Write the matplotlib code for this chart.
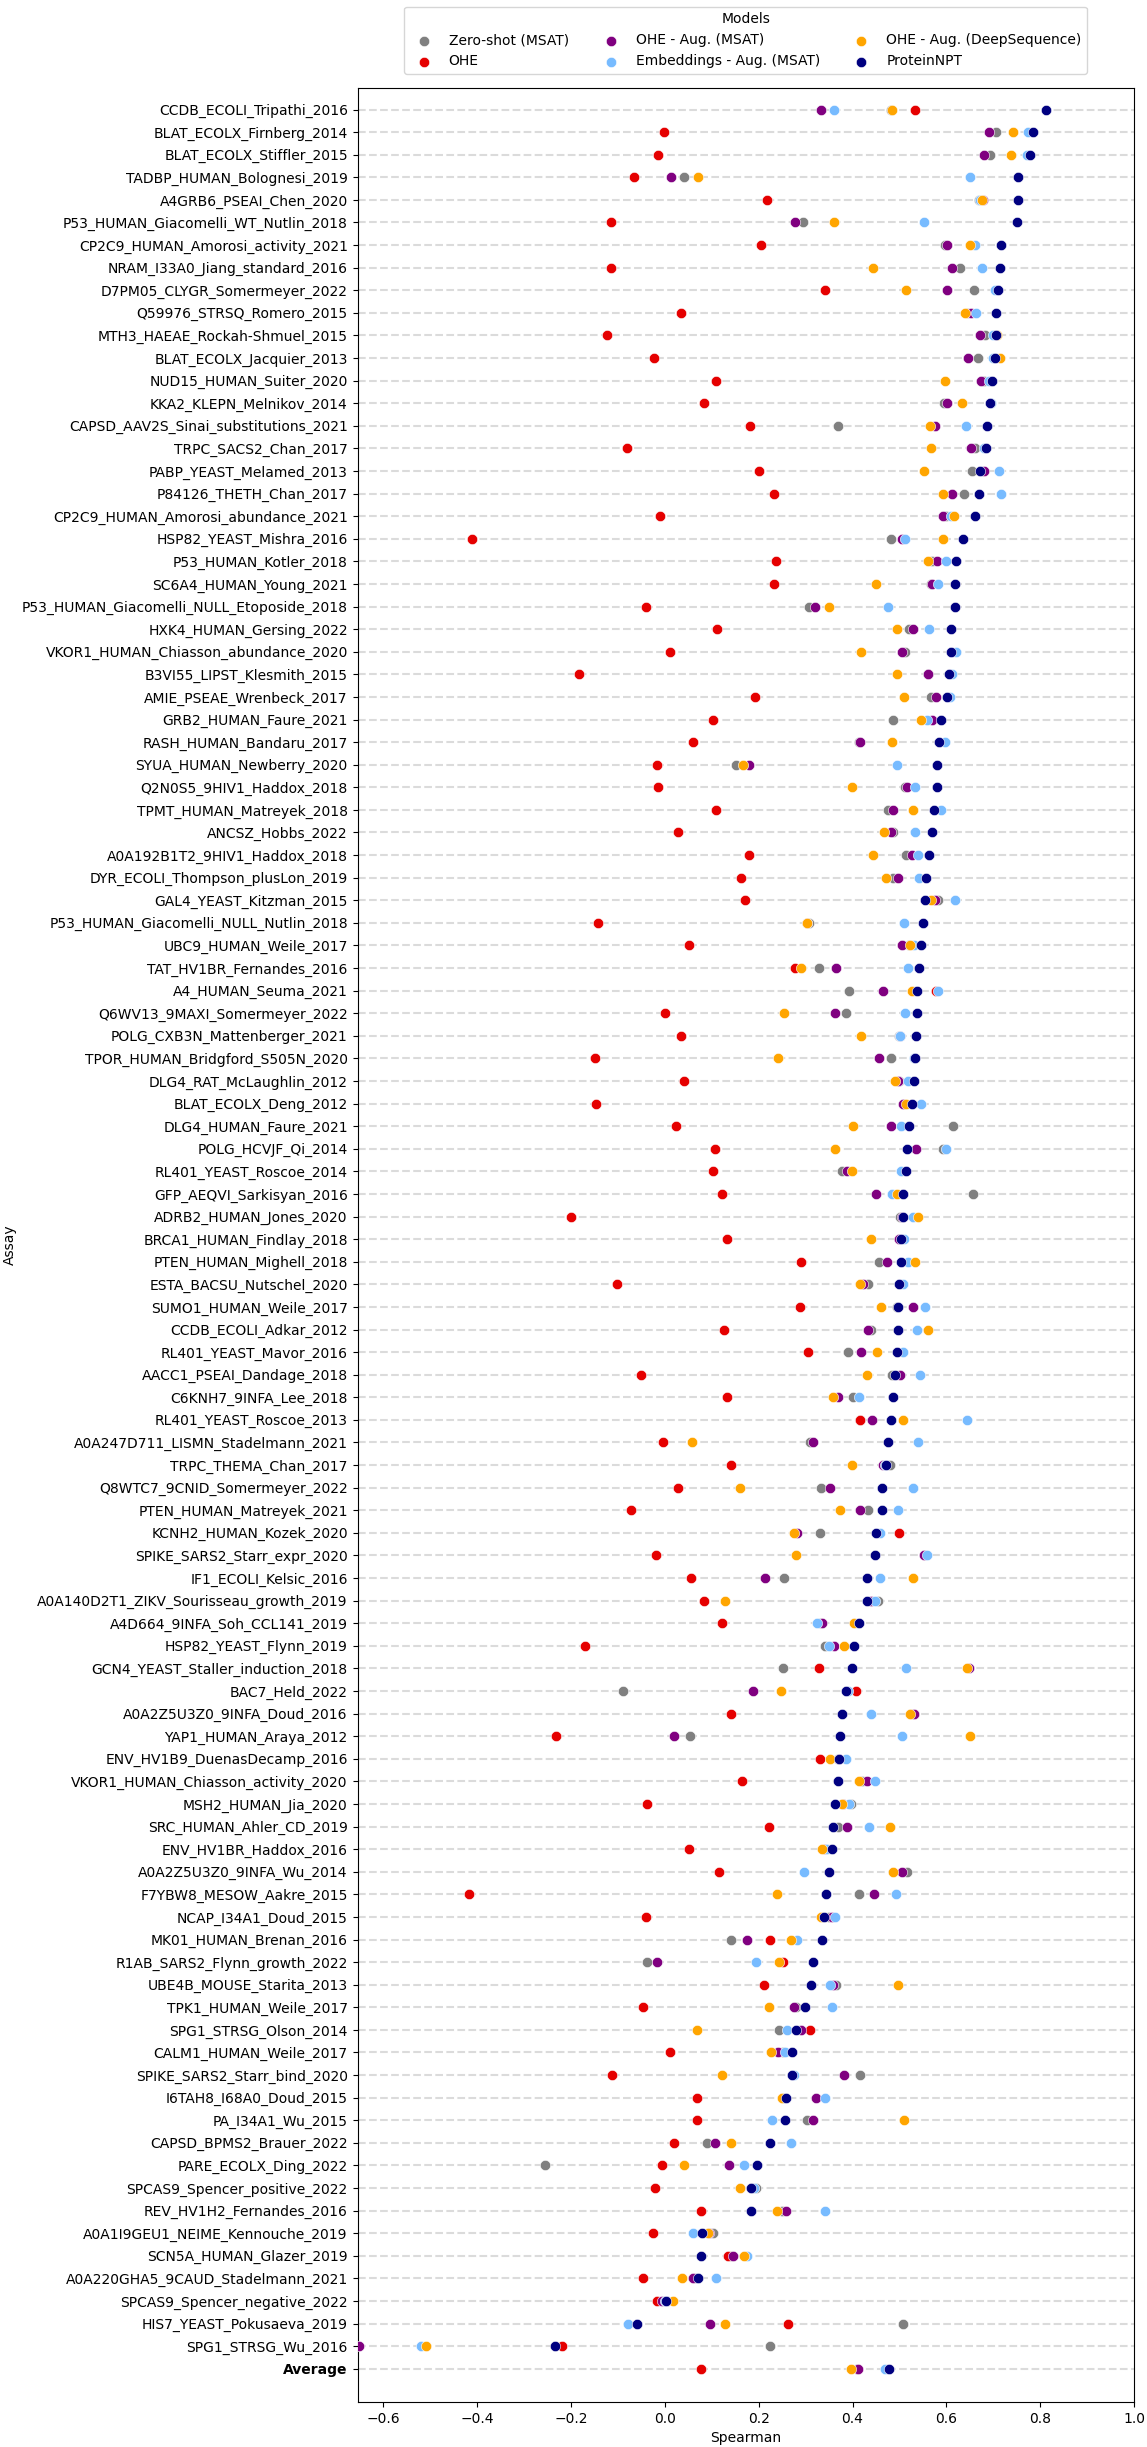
import matplotlib
matplotlib.use("Agg")
import matplotlib.pyplot as plt

# assays, top to bottom
assays = [
    "CCDB_ECOLI_Tripathi_2016", "BLAT_ECOLX_Firnberg_2014", "BLAT_ECOLX_Stiffler_2015",
    "TADBP_HUMAN_Bolognesi_2019", "A4GRB6_PSEAI_Chen_2020", "P53_HUMAN_Giacomelli_WT_Nutlin_2018",
    "CP2C9_HUMAN_Amorosi_activity_2021", "NRAM_I33A0_Jiang_standard_2016", "D7PM05_CLYGR_Somermeyer_2022",
    "Q59976_STRSQ_Romero_2015", "MTH3_HAEAE_Rockah-Shmuel_2015", "BLAT_ECOLX_Jacquier_2013",
    "NUD15_HUMAN_Suiter_2020", "KKA2_KLEPN_Melnikov_2014", "CAPSD_AAV2S_Sinai_substitutions_2021",
    "TRPC_SACS2_Chan_2017", "PABP_YEAST_Melamed_2013", "P84126_THETH_Chan_2017",
    "CP2C9_HUMAN_Amorosi_abundance_2021", "HSP82_YEAST_Mishra_2016", "P53_HUMAN_Kotler_2018",
    "SC6A4_HUMAN_Young_2021", "P53_HUMAN_Giacomelli_NULL_Etoposide_2018", "HXK4_HUMAN_Gersing_2022",
    "VKOR1_HUMAN_Chiasson_abundance_2020", "B3VI55_LIPST_Klesmith_2015", "AMIE_PSEAE_Wrenbeck_2017",
    "GRB2_HUMAN_Faure_2021", "RASH_HUMAN_Bandaru_2017", "SYUA_HUMAN_Newberry_2020",
    "Q2N0S5_9HIV1_Haddox_2018", "TPMT_HUMAN_Matreyek_2018", "ANCSZ_Hobbs_2022",
    "A0A192B1T2_9HIV1_Haddox_2018", "DYR_ECOLI_Thompson_plusLon_2019", "GAL4_YEAST_Kitzman_2015",
    "P53_HUMAN_Giacomelli_NULL_Nutlin_2018", "UBC9_HUMAN_Weile_2017", "TAT_HV1BR_Fernandes_2016",
    "A4_HUMAN_Seuma_2021", "Q6WV13_9MAXI_Somermeyer_2022", "POLG_CXB3N_Mattenberger_2021",
    "TPOR_HUMAN_Bridgford_S505N_2020", "DLG4_RAT_McLaughlin_2012", "BLAT_ECOLX_Deng_2012",
    "DLG4_HUMAN_Faure_2021", "POLG_HCVJF_Qi_2014", "RL401_YEAST_Roscoe_2014",
    "GFP_AEQVI_Sarkisyan_2016", "ADRB2_HUMAN_Jones_2020", "BRCA1_HUMAN_Findlay_2018",
    "PTEN_HUMAN_Mighell_2018", "ESTA_BACSU_Nutschel_2020", "SUMO1_HUMAN_Weile_2017",
    "CCDB_ECOLI_Adkar_2012", "RL401_YEAST_Mavor_2016", "AACC1_PSEAI_Dandage_2018",
    "C6KNH7_9INFA_Lee_2018", "RL401_YEAST_Roscoe_2013", "A0A247D711_LISMN_Stadelmann_2021",
    "TRPC_THEMA_Chan_2017", "Q8WTC7_9CNID_Somermeyer_2022", "PTEN_HUMAN_Matreyek_2021",
    "KCNH2_HUMAN_Kozek_2020", "SPIKE_SARS2_Starr_expr_2020", "IF1_ECOLI_Kelsic_2016",
    "A0A140D2T1_ZIKV_Sourisseau_growth_2019", "A4D664_9INFA_Soh_CCL141_2019", "HSP82_YEAST_Flynn_2019",
    "GCN4_YEAST_Staller_induction_2018", "BAC7_Held_2022", "A0A2Z5U3Z0_9INFA_Doud_2016",
    "YAP1_HUMAN_Araya_2012", "ENV_HV1B9_DuenasDecamp_2016", "VKOR1_HUMAN_Chiasson_activity_2020",
    "MSH2_HUMAN_Jia_2020", "SRC_HUMAN_Ahler_CD_2019", "ENV_HV1BR_Haddox_2016",
    "A0A2Z5U3Z0_9INFA_Wu_2014", "F7YBW8_MESOW_Aakre_2015", "NCAP_I34A1_Doud_2015",
    "MK01_HUMAN_Brenan_2016", "R1AB_SARS2_Flynn_growth_2022", "UBE4B_MOUSE_Starita_2013",
    "TPK1_HUMAN_Weile_2017", "SPG1_STRSG_Olson_2014", "CALM1_HUMAN_Weile_2017",
    "SPIKE_SARS2_Starr_bind_2020", "I6TAH8_I68A0_Doud_2015", "PA_I34A1_Wu_2015",
    "CAPSD_BPMS2_Brauer_2022", "PARE_ECOLX_Ding_2022", "SPCAS9_Spencer_positive_2022",
    "REV_HV1H2_Fernandes_2016", "A0A1I9GEU1_NEIME_Kennouche_2019", "SCN5A_HUMAN_Glazer_2019",
    "A0A220GHA5_9CAUD_Stadelmann_2021", "SPCAS9_Spencer_negative_2022", "HIS7_YEAST_Pokusaeva_2019",
    "SPG1_STRSG_Wu_2016", "Average",
]

# spearman per model (same order as assays)
zero_shot = [0.482, 0.706, 0.692, 0.041, 0.670, 0.295, 0.598, 0.629, 0.658, 0.645,
             0.683, 0.668, 0.680, 0.595, 0.368, 0.662, 0.655, 0.638, 0.600, 0.481,
             0.570, 0.568, 0.308, 0.520, 0.512, 0.560, 0.568, 0.486, 0.413, 0.152,
             0.512, 0.476, 0.486, 0.513, 0.487, 0.582, 0.307, 0.520, 0.328, 0.392,
             0.386, 0.500, 0.481, 0.500, 0.510, 0.614, 0.592, 0.378, 0.656, 0.502,
             0.500, 0.457, 0.432, 0.495, 0.439, 0.390, 0.484, 0.401, 0.415, 0.310,
             0.479, 0.332, 0.433, 0.331, 0.555, 0.255, 0.455, 0.330, 0.341, 0.251,
             -0.090, 0.525, 0.053, 0.370, 0.420, 0.397, 0.369, 0.340, 0.517, 0.414,
             0.350, 0.141, -0.037, 0.364, 0.280, 0.243, 0.251, 0.416, 0.252, 0.304,
             0.090, -0.255, 0.194, 0.249, 0.103, 0.140, 0.065, 0.005, 0.508, 0.225,
             0.410]
ohe = [0.534, -0.001, -0.014, -0.065, 0.217, -0.115, 0.206, -0.115, 0.342, 0.035,
       -0.124, -0.024, 0.109, 0.084, 0.181, -0.081, 0.200, 0.232, -0.011, -0.411,
       0.236, 0.232, -0.040, 0.111, 0.012, -0.184, 0.192, 0.103, 0.059, -0.016,
       -0.014, 0.109, 0.028, 0.179, 0.162, 0.170, -0.142, 0.051, 0.278, 0.577,
       0.001, 0.034, -0.148, 0.041, -0.146, 0.023, 0.107, 0.103, 0.122, -0.201,
       0.132, 0.290, -0.103, 0.289, 0.126, 0.305, -0.050, 0.132, 0.416, -0.003,
       0.141, 0.028, -0.073, 0.499, -0.018, 0.055, 0.084, 0.122, -0.171, 0.328,
       0.407, 0.141, -0.231, 0.330, 0.164, -0.038, 0.221, 0.051, 0.115, -0.417,
       -0.040, 0.225, 0.251, 0.211, -0.046, 0.309, 0.010, -0.113, 0.068, 0.068,
       0.019, -0.006, -0.020, 0.077, -0.026, 0.134, -0.046, -0.016, 0.263, -0.220,
       0.077]
ohe_aug_msat = [0.332, 0.691, 0.680, 0.014, 0.678, 0.277, 0.602, 0.613, 0.602, 0.653,
                0.672, 0.647, 0.673, 0.602, 0.576, 0.653, 0.680, 0.613, 0.592, 0.505,
                0.579, 0.570, 0.320, 0.528, 0.505, 0.561, 0.578, 0.570, 0.416, 0.179,
                0.516, 0.486, 0.481, 0.526, 0.497, 0.576, 0.304, 0.506, 0.364, 0.465,
                0.363, 0.502, 0.456, 0.496, 0.508, 0.481, 0.535, 0.388, 0.450, 0.505,
                0.500, 0.473, 0.422, 0.529, 0.433, 0.418, 0.502, 0.369, 0.441, 0.315,
                0.465, 0.352, 0.416, 0.281, 0.553, 0.213, 0.440, 0.335, 0.360, 0.649,
                0.187, 0.530, 0.019, 0.372, 0.431, 0.380, 0.388, 0.342, 0.505, 0.446,
                0.356, 0.175, -0.016, 0.359, 0.275, 0.290, 0.241, 0.382, 0.322, 0.315,
                0.107, 0.137, 0.185, 0.259, 0.095, 0.145, 0.059, -0.005, 0.097, -0.652,
                0.412]
emb_aug_msat = [0.360, 0.775, 0.772, 0.650, 0.672, 0.552, 0.660, 0.676, 0.704, 0.663,
                0.700, 0.700, 0.690, 0.695, 0.641, 0.680, 0.713, 0.717, 0.610, 0.511,
                0.600, 0.582, 0.475, 0.563, 0.620, 0.611, 0.607, 0.558, 0.598, 0.495,
                0.533, 0.589, 0.533, 0.540, 0.542, 0.618, 0.510, 0.530, 0.519, 0.582,
                0.512, 0.502, 0.530, 0.519, 0.545, 0.504, 0.600, 0.504, 0.484, 0.528,
                0.510, 0.519, 0.508, 0.554, 0.538, 0.508, 0.544, 0.414, 0.644, 0.540,
                0.470, 0.529, 0.497, 0.458, 0.558, 0.458, 0.448, 0.325, 0.349, 0.514,
                0.390, 0.439, 0.506, 0.386, 0.448, 0.392, 0.436, 0.346, 0.296, 0.493,
                0.362, 0.281, 0.194, 0.351, 0.357, 0.261, 0.257, 0.275, 0.342, 0.228,
                0.269, 0.168, 0.190, 0.341, 0.061, 0.175, 0.109, 0.000, -0.078, -0.519,
                0.469]
ohe_aug_ds = [0.485, 0.741, 0.737, 0.070, 0.675, 0.360, 0.650, 0.443, 0.515, 0.640,
              0.708, 0.714, 0.597, 0.633, 0.565, 0.567, 0.552, 0.593, 0.616, 0.593,
              0.561, 0.450, 0.349, 0.495, 0.418, 0.495, 0.510, 0.546, 0.484, 0.166,
              0.399, 0.529, 0.467, 0.443, 0.471, 0.568, 0.302, 0.523, 0.291, 0.526,
              0.255, 0.418, 0.242, 0.491, 0.515, 0.401, 0.363, 0.399, 0.495, 0.540,
              0.439, 0.533, 0.416, 0.460, 0.561, 0.452, 0.431, 0.359, 0.508, 0.057,
              0.399, 0.160, 0.374, 0.276, 0.279, 0.529, 0.128, 0.403, 0.382, 0.644,
              0.247, 0.523, 0.651, 0.353, 0.414, 0.377, 0.480, 0.335, 0.486, 0.238,
              0.333, 0.269, 0.244, 0.497, 0.223, 0.068, 0.226, 0.122, 0.249, 0.510,
              0.141, 0.041, 0.161, 0.238, 0.091, 0.168, 0.036, 0.017, 0.129, -0.508,
              0.397]
protein_npt = [0.812, 0.784, 0.778, 0.753, 0.752, 0.750, 0.716, 0.714, 0.710, 0.705,
               0.705, 0.703, 0.697, 0.693, 0.687, 0.685, 0.672, 0.670, 0.660, 0.635,
               0.620, 0.618, 0.618, 0.610, 0.610, 0.605, 0.601, 0.589, 0.585, 0.580,
               0.580, 0.574, 0.569, 0.563, 0.557, 0.554, 0.550, 0.547, 0.542, 0.538,
               0.538, 0.535, 0.533, 0.531, 0.527, 0.521, 0.516, 0.514, 0.508, 0.508,
               0.504, 0.504, 0.499, 0.496, 0.497, 0.495, 0.491, 0.487, 0.481, 0.475,
               0.471, 0.462, 0.462, 0.450, 0.448, 0.431, 0.431, 0.414, 0.403, 0.399,
               0.386, 0.378, 0.374, 0.371, 0.370, 0.363, 0.359, 0.357, 0.349, 0.343,
               0.339, 0.334, 0.315, 0.311, 0.298, 0.280, 0.271, 0.271, 0.259, 0.257,
               0.225, 0.196, 0.183, 0.183, 0.079, 0.077, 0.071, 0.003, -0.060, -0.235,
               0.477]

models = ["Zero-shot (MSAT)", "OHE", "OHE - Aug. (MSAT)", "Embeddings - Aug. (MSAT)",
          "OHE - Aug. (DeepSequence)", "ProteinNPT"]
series = [zero_shot, ohe, ohe_aug_msat, emb_aug_msat, ohe_aug_ds, protein_npt]
colors = ["#808080", "#e50000", "#800080", "#77bbff", "#ffa500", "#000080"]

fig = plt.figure(figsize=(11.47, 24.47), dpi=100)
ax = fig.add_axes([0.3117, 0.0184, 0.677, 0.9458])

ypos = list(range(len(assays)))
for name, vals, c in zip(models, series, colors):
    ax.scatter(vals, ypos, s=55, color=c, edgecolors="white", linewidths=0.4,
               label=name, zorder=3)

ax.set_yticks(ypos)
ax.set_yticklabels(assays, fontsize=10)
ax.get_yticklabels()[-1].set_fontweight("bold")
ax.set_ylim(101.47, -0.97)
ax.set_xlim(-0.655, 1.0)
ax.grid(axis="y", linestyle="--", color="#d3d3d3", alpha=0.8, linewidth=1.5)
ax.set_axisbelow(True)

ax.set_xlabel("Spearman")
ax.set_ylabel("Assay")
ax.yaxis.set_label_coords(-0.4385, 0.5)

ax.legend(title="Models", loc="lower center", bbox_to_anchor=(0.5, 1.003), ncol=3)

fig.savefig("out.png", dpi=100)
